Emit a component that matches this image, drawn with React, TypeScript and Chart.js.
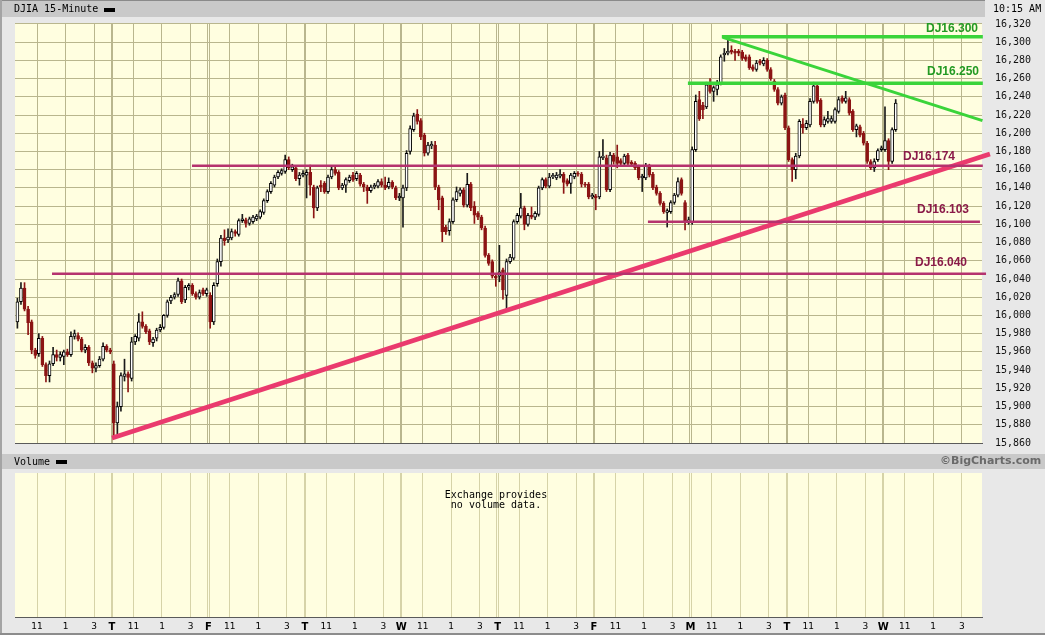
import React, { useEffect, useRef } from 'react';
import { Chart, registerables } from 'chart.js';
Chart.register(...registerables);

// ---------- data ----------
const BARS_PER_DAY = 27; // 15-minute bars, 9:30 .. 16:00
const dayLabels = ['', 'T', 'F', 'T', 'W', 'T', 'F', 'M', 'T', 'W'];
const hourLabels = ['11', '1', '3'];
const hourOffsets = [6, 14, 22];
const yTicks = [15860, 15880, 15900, 15920, 15940, 15960, 15980, 16000, 16020, 16040, 16060, 16080, 16100, 16120, 16140, 16160, 16180, 16200, 16220, 16240, 16260, 16280, 16300, 16320];

const opens = [
  15993, 16015, 16030, 16007, 15993, 15962, 15958, 15975, 15946, 15934, 15947, 15957, 15954, 15955, 15960, 15957, 15977, 15978, 15974, 15962, 15965, 15948, 15942, 15945, 15952, 15966, 15962,
  15947, 15882, 15900, 15933, 15936, 15931, 15971, 15975, 15993, 15988, 15983, 15970, 15975, 15984, 15987, 16000, 16016, 16020, 16023, 16038, 16017, 16031, 16033, 16024, 16020, 16028, 16024,
  16022, 15993, 16035, 16059, 16085, 16083, 16085, 16092, 16089, 16104, 16105, 16101, 16103, 16106, 16108, 16113, 16126, 16136, 16143, 16152, 16156, 16158, 16171, 16160, 16162, 16150, 16154,
  16154, 16157, 16141, 16118, 16143, 16145, 16136, 16152, 16160, 16157, 16140, 16143, 16148, 16154, 16150, 16154, 16144, 16141, 16137, 16141, 16142, 16147, 16143, 16141, 16146, 16140, 16129,
  16129, 16140, 16180, 16204, 16221, 16214, 16198, 16178, 16186, 16187, 16141, 16129, 16097, 16093, 16103, 16127, 16134, 16138, 16121, 16144, 16120, 16112, 16108, 16096, 16066, 16059, 16043,
  16043, 16050, 16022, 16059, 16063, 16103, 16109, 16118, 16100, 16110, 16108, 16111, 16140, 16149, 16142, 16152, 16151, 16153, 16155, 16148, 16145, 16152, 16156, 16155, 16144, 16144, 16130,
  16131, 16130, 16173, 16173, 16138, 16176, 16174, 16170, 16167, 16176, 16168, 16167, 16163, 16151, 16151, 16164, 16155, 16141, 16134, 16123, 16113, 16114, 16124, 16132, 16149, 16124, 16103,
  16103, 16182, 16237, 16231, 16229, 16253, 16246, 16248, 16255, 16286, 16288, 16291, 16290, 16290, 16289, 16284, 16284, 16273, 16270, 16279, 16276, 16280, 16270, 16257, 16248, 16233, 16242,
  16206, 16171, 16160, 16175, 16210, 16206, 16209, 16235, 16252, 16236, 16209, 16213, 16213, 16213, 16224, 16239, 16235, 16237, 16224, 16204, 16207, 16200, 16189, 16169, 16162, 16171, 16182,
  16182, 16192, 16169, 16204,
];
const highs = [
  16019, 16036, 16036, 16010, 15995, 15964, 15980, 15977, 15948, 15950, 15965, 15962, 15960, 15962, 15963, 15982, 15984, 15981, 15976, 15968, 15967, 15950, 15948, 15955, 15970, 15968, 15964,
  15950, 15905, 15937, 15952, 15938, 15976, 15979, 16002, 16004, 15990, 15985, 15976, 15986, 15990, 16001, 16017, 16022, 16025, 16041, 16040, 16033, 16035, 16035, 16026, 16028, 16030, 16030,
  16025, 16036, 16062, 16088, 16094, 16095, 16095, 16094, 16106, 16111, 16107, 16108, 16110, 16111, 16116, 16128, 16138, 16147, 16154, 16159, 16161, 16176, 16174, 16166, 16164, 16157, 16159,
  16160, 16165, 16143, 16142, 16148, 16147, 16154, 16164, 16164, 16159, 16145, 16151, 16154, 16157, 16158, 16156, 16146, 16143, 16143, 16145, 16149, 16150, 16152, 16151, 16148, 16142, 16134,
  16143, 16181, 16208, 16222, 16226, 16216, 16200, 16190, 16191, 16191, 16143, 16131, 16099, 16106, 16129, 16141, 16140, 16140, 16156, 16146, 16125, 16114, 16110, 16098, 16068, 16061, 16045,
  16077, 16052, 16062, 16067, 16105, 16112, 16134, 16120, 16112, 16119, 16114, 16142, 16151, 16151, 16156, 16156, 16157, 16160, 16157, 16150, 16156, 16158, 16158, 16157, 16146, 16146, 16134,
  16133, 16180, 16193, 16176, 16179, 16178, 16187, 16172, 16177, 16178, 16170, 16169, 16165, 16155, 16167, 16166, 16157, 16143, 16136, 16125, 16117, 16126, 16134, 16151, 16151, 16126, 16108,
  16185, 16242, 16246, 16234, 16256, 16260, 16252, 16258, 16286, 16293, 16302, 16296, 16292, 16292, 16291, 16286, 16286, 16275, 16280, 16281, 16283, 16282, 16272, 16259, 16250, 16242, 16244,
  16208, 16173, 16178, 16215, 16216, 16214, 16238, 16256, 16254, 16238, 16218, 16224, 16219, 16228, 16240, 16241, 16246, 16239, 16226, 16210, 16209, 16202, 16191, 16171, 16172, 16183, 16186,
  16229, 16194, 16206, 16237,
];
const lows = [
  15986, 16012, 16005, 15979, 15958, 15953, 15955, 15944, 15927, 15927, 15945, 15950, 15950, 15946, 15955, 15955, 15974, 15972, 15960, 15959, 15945, 15937, 15938, 15943, 15950, 15960, 15958,
  15868, 15870, 15895, 15928, 15916, 15928, 15968, 15972, 15986, 15980, 15968, 15966, 15972, 15982, 15985, 15998, 16013, 16018, 16021, 16013, 16014, 16028, 16022, 16018, 16018, 16022, 16021,
  15986, 15990, 16032, 16054, 16077, 16080, 16083, 16087, 16087, 16102, 16097, 16099, 16101, 16104, 16106, 16111, 16124, 16134, 16141, 16150, 16154, 16156, 16160, 16158, 16148, 16143, 16152,
  16129, 16132, 16107, 16115, 16136, 16134, 16134, 16150, 16154, 16138, 16138, 16135, 16146, 16147, 16148, 16142, 16136, 16123, 16135, 16139, 16140, 16141, 16138, 16139, 16139, 16127, 16126,
  16097, 16137, 16177, 16202, 16210, 16193, 16175, 16176, 16183, 16138, 16116, 16081, 16089, 16088, 16101, 16125, 16131, 16119, 16119, 16115, 16101, 16105, 16094, 16064, 16055, 16041, 16032,
  16037, 16018, 16006, 16057, 16061, 16101, 16107, 16094, 16098, 16106, 16105, 16109, 16138, 16140, 16140, 16150, 16149, 16151, 16134, 16142, 16134, 16150, 16153, 16141, 16141, 16128, 16128,
  16116, 16128, 16171, 16136, 16136, 16166, 16162, 16165, 16165, 16165, 16164, 16160, 16149, 16136, 16149, 16152, 16138, 16132, 16121, 16112, 16097, 16112, 16122, 16130, 16132, 16094, 16100,
  16100, 16180, 16214, 16216, 16227, 16244, 16235, 16242, 16253, 16279, 16286, 16287, 16280, 16285, 16280, 16279, 16270, 16268, 16268, 16275, 16274, 16268, 16258, 16246, 16231, 16231, 16204,
  16169, 16147, 16150, 16173, 16200, 16204, 16207, 16233, 16233, 16207, 16207, 16211, 16211, 16211, 16222, 16233, 16233, 16220, 16202, 16196, 16196, 16187, 16167, 16160, 16158, 16169, 16180,
  16180, 16160, 16167, 16202,
];
const closes = [
  16015, 16030, 16007, 15992, 15962, 15956, 15975, 15946, 15934, 15947, 15957, 15954, 15957, 15960, 15957, 15977, 15980, 15974, 15962, 15965, 15948, 15942, 15945, 15952, 15966, 15962, 15960,
  15882, 15900, 15934, 15936, 15932, 15971, 15977, 15993, 15988, 15982, 15971, 15974, 15984, 15987, 16000, 16015, 16020, 16023, 16038, 16015, 16031, 16033, 16024, 16020, 16025, 16024, 16028,
  15993, 16033, 16059, 16085, 16082, 16086, 16092, 16090, 16104, 16106, 16101, 16106, 16108, 16109, 16114, 16126, 16136, 16145, 16152, 16157, 16159, 16171, 16162, 16163, 16150, 16154, 16156,
  16157, 16143, 16118, 16140, 16141, 16136, 16152, 16160, 16156, 16140, 16143, 16149, 16152, 16149, 16156, 16144, 16141, 16137, 16141, 16143, 16147, 16143, 16140, 16146, 16141, 16129, 16131,
  16140, 16178, 16205, 16219, 16213, 16196, 16178, 16187, 16188, 16141, 16127, 16092, 16092, 16103, 16127, 16136, 16138, 16121, 16144, 16118, 16110, 16108, 16096, 16066, 16057, 16043, 16041,
  16048, 16028, 16059, 16064, 16103, 16110, 16118, 16100, 16110, 16108, 16112, 16140, 16149, 16142, 16152, 16154, 16154, 16155, 16146, 16144, 16154, 16156, 16155, 16144, 16143, 16130, 16132,
  16129, 16174, 16175, 16138, 16176, 16169, 16167, 16167, 16175, 16167, 16166, 16162, 16151, 16153, 16164, 16154, 16140, 16134, 16123, 16114, 16115, 16124, 16132, 16147, 16134, 16103, 16105,
  16182, 16235, 16216, 16226, 16253, 16246, 16250, 16253, 16284, 16288, 16290, 16289, 16288, 16288, 16282, 16281, 16272, 16270, 16277, 16277, 16280, 16270, 16260, 16248, 16233, 16240, 16206,
  16171, 16160, 16175, 16213, 16206, 16211, 16235, 16252, 16235, 16209, 16215, 16216, 16216, 16226, 16237, 16235, 16239, 16222, 16204, 16208, 16198, 16189, 16169, 16162, 16169, 16181, 16184,
  16192, 16169, 16204, 16233,
];

// drawn levels (price) and where they start / end (in bar units)
const levelNames = ['DJ16.300', 'DJ16.250', 'DJ16.174', 'DJ16.103', 'DJ16.040'];
const levelPrices = [16306, 16255, 16164.4, 16102.9, 16045.8];
const levelStart = [197.8, 188.3, 49.4, 177.1, 10.2];
const levelEnd = [270.9, 270.9, 270.9, 270.1, 271.8];
const greenTrendX = [198.1, 270.8];
const greenTrendY = [16305.3, 16213.8];
const pinkTrendX = [27.0, 272.9];
const pinkTrendY = [15865.5, 16177.2];

// ---------- style ----------
const YELLOW = '#fffee0';
const GRID = '#b9b68e';
const GRID_VOL = '#d6d3a8';
const RED = '#8c1414';
const GREEN_LINE = '#3ad43a';
const MAGENTA = '#b5326e';
const PINK = '#ea3a6e';
const MONO = '"DejaVu Sans Mono", monospace';

type XT = { value: number; label: string; kind: string };
function buildXTicks(): XT[] {
  const t: XT[] = [];
  for (let d = 0; d < dayLabels.length; d++) {
    const s = d * BARS_PER_DAY;
    if (d > 0) {
      t.push({ value: s - 0.22, label: '', kind: 'grid' });
      t.push({ value: s, label: dayLabels[d], kind: 'day' });
      t.push({ value: s + 0.22, label: '', kind: 'grid' });
    }
    hourOffsets.forEach((o, k) => t.push({ value: s + o, label: hourLabels[k], kind: 'hour' }));
  }
  return t;
}
const xTicks = buildXTicks();
const X_MIN = -0.17;
const X_MAX = 270.67;

const bgPlugin = {
  id: 'bgFill',
  beforeDraw(chart: any) {
    const { ctx, chartArea: a } = chart;
    ctx.save();
    ctx.fillStyle = YELLOW;
    ctx.fillRect(a.left, a.top, a.right - a.left, a.bottom - a.top);
    ctx.restore();
  },
};

type Box = { left: number; top: number; right: number; bottom: number };
// nudge the layout padding so the plot area lands on the wanted box
function fitArea(chart: any, pad: Box, want: Box) {
  for (let k = 0; k < 3; k++) {
    const a = chart.chartArea;
    if (!a) return;
    const dl = want.left - a.left;
    const dt = want.top - a.top;
    const dr = a.right - want.right;
    const db = a.bottom - want.bottom;
    if (Math.abs(dl) + Math.abs(dt) + Math.abs(dr) + Math.abs(db) < 0.5) return;
    pad.left += dl;
    pad.top += dt;
    pad.right += dr;
    pad.bottom += db;
    chart.options.layout = { autoPadding: false, padding: { ...pad } };
    chart.update();
  }
}

function xScale(showLabels: boolean, gridColor: string) {
  return {
    type: 'linear',
    min: X_MIN,
    max: X_MAX,
    offset: false,
    afterBuildTicks: (scale: any) => {
      scale.ticks = xTicks.map((t) => ({ value: t.value }));
    },
    grid: {
      offset: false,
      drawTicks: false,
      color: (ctx: any) => (xTicks[ctx.index] && xTicks[ctx.index].kind === 'day' ? 'rgba(0,0,0,0)' : gridColor),
      lineWidth: 1,
    },
    border: { display: true, color: '#5a5a5a', width: 1 },
    ticks: {
      display: showLabels,
      autoSkip: false,
      maxRotation: 0,
      minRotation: 0,
      padding: 4,
      color: '#000',
      font: (ctx: any) => {
        const t = xTicks[ctx.index];
        return t && t.kind === 'day'
          ? { family: '"DejaVu Sans", sans-serif', size: 10, weight: 'bold' }
          : { family: '"DejaVu Sans", sans-serif', size: 9, weight: 'normal' };
      },
      callback: (_v: any, i: number) => (xTicks[i] ? xTicks[i].label : ''),
    },
  };
}

export default function App() {
  const priceRef = useRef<HTMLCanvasElement>(null);
  const volRef = useRef<HTMLCanvasElement>(null);

  useEffect(() => {
    const up = closes.map((c, i) => c >= opens[i]);
    const bodies = opens.map((o, i) => ({ x: i + 0.5, y: [o, closes[i]] }));
    const wicks = lows.map((l, i) => ({ x: i + 0.5, y: [l, highs[i]] }));

    const lineDs = (pts: { x: number; y: number }[], color: string, width: number) => ({
      type: 'line',
      data: pts,
      borderColor: color,
      borderWidth: width,
      pointRadius: 0,
      fill: false,
      tension: 0,
      clip: false,
      order: 0,
      borderCapStyle: 'butt',
    });

    const levelDs = levelPrices.map((p, k) =>
      lineDs(
        [
          { x: levelStart[k], y: p },
          { x: levelEnd[k], y: p },
        ],
        k < 2 ? GREEN_LINE : MAGENTA,
        k < 2 ? 3.5 : 2.5
      )
    );

    const pricePad: Box = { left: 15, top: 23, right: 0, bottom: 27 };
    const price = new Chart(priceRef.current as HTMLCanvasElement, {
      type: 'bar',
      data: {
        datasets: [
          {
            type: 'bar',
            data: wicks as any,
            backgroundColor: up.map((u) => (u ? '#1a1a1a' : RED)),
            barThickness: 1,
            grouped: false,
            order: 3,
            minBarLength: 1,
          } as any,
          {
            type: 'bar',
            data: bodies as any,
            backgroundColor: up.map((u) => (u ? '#ffffff' : RED)),
            borderColor: up.map((u) => (u ? '#000000' : RED)),
            borderWidth: 1,
            borderSkipped: false,
            barThickness: 3,
            grouped: false,
            order: 2,
            minBarLength: 1,
          } as any,
          ...levelDs,
          lineDs(
            greenTrendX.map((x, i) => ({ x, y: greenTrendY[i] })),
            GREEN_LINE,
            3
          ),
          lineDs(
            pinkTrendX.map((x, i) => ({ x, y: pinkTrendY[i] })),
            PINK,
            4.5
          ),
        ] as any,
      },
      options: {
        responsive: false,
        animation: false,
        events: [],
        layout: { autoPadding: false, padding: { ...pricePad } },
        plugins: { legend: { display: false }, tooltip: { enabled: false } },
        scales: {
          x: xScale(false, GRID) as any,
          y: {
            type: 'linear',
            position: 'right',
            min: 15860,
            max: 16321,
            afterBuildTicks: (scale: any) => {
              scale.ticks = yTicks.map((v) => ({ value: v }));
            },
            afterFit: (scale: any) => {
              scale.width = 63;
            },
            grid: { drawTicks: false, color: GRID, lineWidth: 1 },
            border: { display: false },
            ticks: {
              padding: 13,
              color: '#111',
              font: { family: MONO, size: 10 },
              callback: (v: any) => Number(v).toLocaleString('en-US'),
            },
          } as any,
        },
      },
      plugins: [bgPlugin],
    } as any);
    fitArea(price, pricePad, { left: 15, top: 23, right: 982, bottom: 443 });

    const volPad: Box = { left: 15, top: 13, right: 63, bottom: 0 };
    const vol = new Chart(volRef.current as HTMLCanvasElement, {
      type: 'bar',
      data: { datasets: [] },
      options: {
        responsive: false,
        animation: false,
        events: [],
        layout: { autoPadding: false, padding: { ...volPad } },
        plugins: { legend: { display: false }, tooltip: { enabled: false } },
        scales: {
          x: xScale(true, GRID_VOL) as any,
          y: { type: 'linear', min: 0, max: 1, display: false } as any,
        },
      },
      plugins: [bgPlugin],
    } as any);
    fitArea(vol, volPad, { left: 15, top: 13, right: 982, bottom: 157 });

    return () => {
      price.destroy();
      vol.destroy();
    };
  }, []);

  const label = (text: string, left: number, top: number, color: string) => (
    <div
      style={{
        position: 'absolute',
        left,
        top,
        font: 'bold 12px "Liberation Sans", Arial, sans-serif',
        lineHeight: '12px',
        color,
        whiteSpace: 'nowrap',
        zIndex: 3,
      }}
    >
      {text}
    </div>
  );

  return (
    <div
      style={{
        position: 'fixed',
        left: 0,
        top: 0,
        width: 1045,
        height: 635,
        background: '#e8e8e8',
        overflow: 'hidden',
        fontFamily: MONO,
      }}
    >
      <div style={{ position: 'absolute', left: 0, top: 0, width: 2, height: 635, background: '#a4a4a4' }} />
      <div style={{ position: 'absolute', left: 0, top: 633, width: 1045, height: 2, background: '#8c8c8c' }} />
      <div style={{ position: 'absolute', left: 2, top: 0, width: 983, height: 17, background: '#c9c9c9', borderTop: '1px solid #8a8a8a', boxSizing: 'border-box' }} />
      <div style={{ position: 'absolute', left: 14, top: 3, fontSize: 10, lineHeight: '12px', color: '#000', zIndex: 3 }}>DJIA 15-Minute</div>
      <div style={{ position: 'absolute', left: 104, top: 8, width: 11, height: 4, background: '#000', zIndex: 3 }} />
      <div style={{ position: 'absolute', left: 993, top: 3, fontSize: 10, lineHeight: '12px', color: '#000', zIndex: 3 }}>10:15 AM</div>

      <div style={{ position: 'absolute', left: 2, top: 454, width: 1043, height: 15, background: '#c9c9c9' }} />
      <div style={{ position: 'absolute', left: 14, top: 456, fontSize: 10, lineHeight: '12px', color: '#000', zIndex: 3 }}>Volume</div>
      <div style={{ position: 'absolute', left: 56, top: 460, width: 11, height: 4, background: '#000', zIndex: 3 }} />
      <div style={{ position: 'absolute', left: 940, top: 455, font: 'bold 11px "DejaVu Sans", sans-serif', lineHeight: '12px', color: '#6a6a6a', zIndex: 3 }}>©BigCharts.com</div>

      <canvas ref={priceRef} width={1045} height={470} style={{ position: 'absolute', left: 0, top: 0, width: 1045, height: 470, zIndex: 1 }} />
      <canvas ref={volRef} width={1045} height={175} style={{ position: 'absolute', left: 0, top: 460, width: 1045, height: 175, zIndex: 1 }} />

      <div style={{ position: 'absolute', left: 396, width: 200, top: 490, textAlign: 'center', fontSize: 10, lineHeight: '10px', color: '#000', zIndex: 3 }}>
        Exchange provides
        <br />
        no volume data.
      </div>

      {label(levelNames[0], 926, 22, '#239a23')}
      {label(levelNames[1], 927, 65, '#239a23')}
      {label(levelNames[2], 903, 150, '#8a1a48')}
      {label(levelNames[3], 917, 203, '#8a1a48')}
      {label(levelNames[4], 915, 256, '#8a1a48')}
    </div>
  );
}
